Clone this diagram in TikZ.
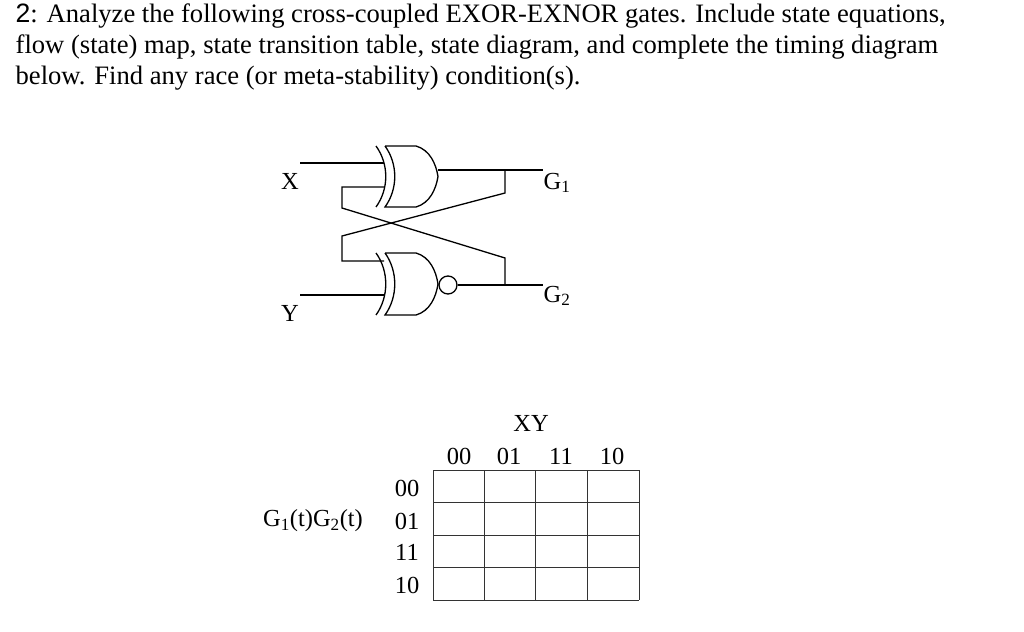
\documentclass[tikz,border=0pt]{standalone}
\usepackage{fontspec}
\setmainfont{Liberation Serif}
\newfontfamily\arialf{Liberation Sans}
\begin{document}
\begin{tikzpicture}[x=1pt,y=-1pt,line width=1.3pt,
 lbl/.style={font=\fontsize{24.5}{28}\selectfont,inner sep=0pt},
 hdr/.style={font=\fontsize{26.6}{31}\selectfont,inner sep=0pt,anchor=north west,align=left}]
\useasboundingbox[fill=white] (0,0) rectangle (1024,631);
\node[hdr] (h) at (15,3) {{\arialf 2}: Analyze the following cross-coupled EXOR-EXNOR gates. Include state equations,\\flow (state) map, state transition table, state diagram, and complete the timing diagram\\below. Find any race (or meta-stability) condition(s).};
% gates
\foreach \t/\b in {146/207,253/315}{
 \draw (385,\t) -- (416,\t) .. controls (430,\t+4) and (436,\t+18) .. (438,{(\t+\b)/2})
   .. controls (436,\b-18) and (430,\b-4) .. (416,\b) -- (385,\b)
   .. controls (398,\b-18) and (398,\t+18) .. (385,\t);
 \draw (376,\t) .. controls (389,\t+18) and (389,\b-18) .. (376,\b);
}
\node[draw,circle,minimum size=18pt,inner sep=0pt] (bub) at (448,285) {};
\coordinate (j1) at (505,170); \coordinate (j2) at (505,285);
\node[lbl] (G1) at (557,183) {G\textsubscript{1}};
\node[lbl] (G2) at (557,296) {G\textsubscript{2}};
\node[lbl] (X) at (290,181) {X};
\node[lbl] (Y) at (290,313) {Y};
\draw (438,170) -- (543,170);
\draw (bub.east) -- (543,285);
\draw (300,163) -- (384,163);
\draw (300,295) -- (384,295);
\draw (j1) -- (505,193) -- (342,236) -- (342,261) -- (384,261);
\draw (j2) -- (505,258) -- (342,208) -- (342,187) -- (384,187);
% map
\foreach \x in {433,484,535,587,639}\draw[line width=0.9pt,black!80] (\x,470) -- (\x,600);
\foreach \y in {470,502,535,567,600}\draw[line width=0.9pt,black!80] (433,\y) -- (639,\y);
\foreach \l/\x in {00/459,01/509,11/561,10/612}\node[lbl] at (\x,456) {\l};
\foreach \l/\y in {00/488,01/521,11/552,10/585}\node[lbl] at (407,\y) {\l};
\node[lbl] (xy) at (531,423) {XY};
\node[lbl] (gg) at (313,521) {G\textsubscript{1}(t)G\textsubscript{2}(t)};
\end{tikzpicture}
\end{document}
